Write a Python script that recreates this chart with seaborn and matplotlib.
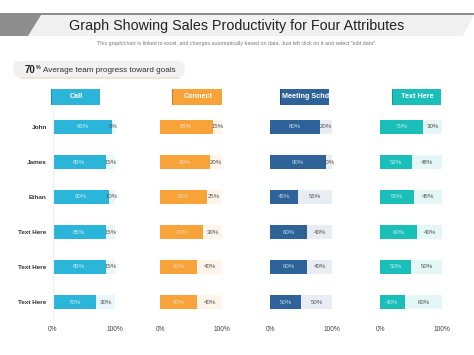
import matplotlib
matplotlib.use("Agg")
import matplotlib.pyplot as plt
from matplotlib.patches import Rectangle, Polygon, FancyBboxPatch
import seaborn as sns

import pandas as pd
import numpy as np

# Data
rows = ["John", "James", "Ethan", "Text Here", "Text Here", "Text Here"]
attributes = ["Call", "Connect", "Meeting Schd", "Text Here"]

call_done = [95, 85, 90, 85, 85, 70]
call_left = [5, 15, 10, 15, 15, 30]
connect_done = [85, 80, 75, 70, 60, 60]
connect_left = [15, 20, 25, 30, 40, 40]
meeting_done = [80, 90, 45, 60, 60, 50]
meeting_left = [20, 10, 55, 40, 40, 50]
text_done = [70, 52, 55, 60, 50, 40]
text_left = [30, 48, 45, 40, 50, 60]

avg_progress = 70

done_values = [call_done, connect_done, meeting_done, text_done]
left_values = [call_left, connect_left, meeting_left, text_left]

# Styles
fill_colors = ["#2BB6D9", "#F8A23A", "#2E6399", "#1ABFB9"]
rest_colors = ["#EAF6FA", "#FDF5EA", "#E8ECF3", "#E4F6F5"]
inner_text = ["#C5ECF6", "#FCDDB2", "#C3D2E3", "#C0EEEB"]
edge_colors = ["#1E8FAE", "#C97D22", "#1F4A77", "#119893"]
panel_left_px = [53, 160, 270, 380]
header_px = [(51, 100), (172, 222), (280, 329), (392, 441)]

W, H = 474, 355
plt.rcParams['font.family'] = ['Liberation Sans', 'DejaVu Sans']

fig = plt.figure(figsize=(W / 100, H / 100), dpi=100)
fig.patch.set_facecolor("white")

# Background axes in pixel coordinates for decorations
bg = fig.add_axes([0, 0, 1, 1], zorder=0)
bg.set_xlim(0, W)
bg.set_ylim(H, 0)
bg.axis("off")

# Title band
bg.add_patch(Rectangle((0, 13), W, 2, color="#8C8C8C", lw=0))
bg.add_patch(Polygon([(41, 15), (W, 15), (463, 36), (28, 36)], closed=True, color="#F0F0F0", lw=0))
bg.add_patch(Polygon([(0, 15), (41, 15), (28, 36), (0, 36)], closed=True, color="#8E8E8E", lw=0))
bg.text(237, 26, "Graph Showing Sales Productivity for Four Attributes",
        ha="center", va="center", fontsize=10.3, color="#222222")
bg.text(237, 43, 'This graph/chart is linked to excel, and changes automatically based on data. '
        'Just left click on it and select "edit data".',
        ha="center", va="center", fontsize=3.8, color="#777777")

# Average progress pill
bg.add_patch(FancyBboxPatch((13, 61), 172, 16, boxstyle="round,pad=0,rounding_size=7",
                            fc="#F1F1F1", ec="none", lw=0))
bg.add_patch(Rectangle((20, 77), 160, 2, color="#EDE6D8", lw=0))
bg.text(25, 70, f"{avg_progress}", ha="left", va="center", fontsize=7, fontweight="bold", color="#222222")
bg.text(35.5, 67.5, "%", ha="left", va="center", fontsize=3.8, fontweight="bold", color="#222222")
bg.text(43, 70, "Average team progress toward goals", ha="left", va="center", fontsize=5.9, color="#333333")

# Header boxes
for name, (x0, x1), fc, ec in zip(attributes, header_px, fill_colors, edge_colors):
    bg.add_patch(Rectangle((x0, 89), x1 - x0, 16, color=fc, lw=0))
    bg.add_patch(Rectangle((x0, 89), 1.5, 16, color=ec, lw=0))
    bg.text((x0 + x1) / 2 + 1, 97, name, ha="center", va="center",
            fontsize=5.2, fontweight="bold", color="white")

# Bar panels
idx = list(range(len(rows)))
for i, (done, left) in enumerate(zip(done_values, left_values)):
    ax = fig.add_axes([panel_left_px[i] / W, 1 - 319.5 / H, 62 / W, 210 / H], zorder=2)
    ax.patch.set_alpha(0)
    df = pd.DataFrame({"row": idx, "done": done, "left": left})
    df["total"] = df["done"] + df["left"]

    sns.barplot(data=df, x="total", y="row", orient="h", color=rest_colors[i],
                width=0.4, saturation=1, ax=ax)
    sns.barplot(data=df, x="done", y="row", orient="h", color=fill_colors[i],
                width=0.4, saturation=1, ax=ax)

    for r, d, l in zip(idx, done, left):
        ax.text(d / 2, r, f"{d}%", ha="center", va="center", fontsize=4.4, color=inner_text[i])
        ax.text(d + l / 2, r, f"{l}%", ha="center", va="center", fontsize=4.4, color="#555555")

    ax.set_xlim(0, 100)
    ax.set_xticks([0, 100], labels=["0%", "100%"])
    ax.tick_params(axis="x", length=0, pad=5, labelsize=4.8, labelcolor="#444444")
    ax.set_xlabel("")
    ax.set_ylabel("")
    if i == 0:
        ax.set_yticks(idx, labels=rows)
        ax.tick_params(axis="y", length=0, pad=4.5, labelsize=4.6, labelcolor="#333333")
        for lab in ax.get_yticklabels():
            lab.set_fontweight("bold")
    else:
        ax.set_yticks([])
    for side in ["top", "right", "bottom", "left"]:
        ax.spines[side].set_visible(False)
    if i == 0:
        ax.spines["left"].set_visible(True)
        ax.spines["left"].set_color("#EEEEEE")
        ax.spines["left"].set_linewidth(0.8)

fig.savefig("out.png", dpi=100)
plt.close(fig)
